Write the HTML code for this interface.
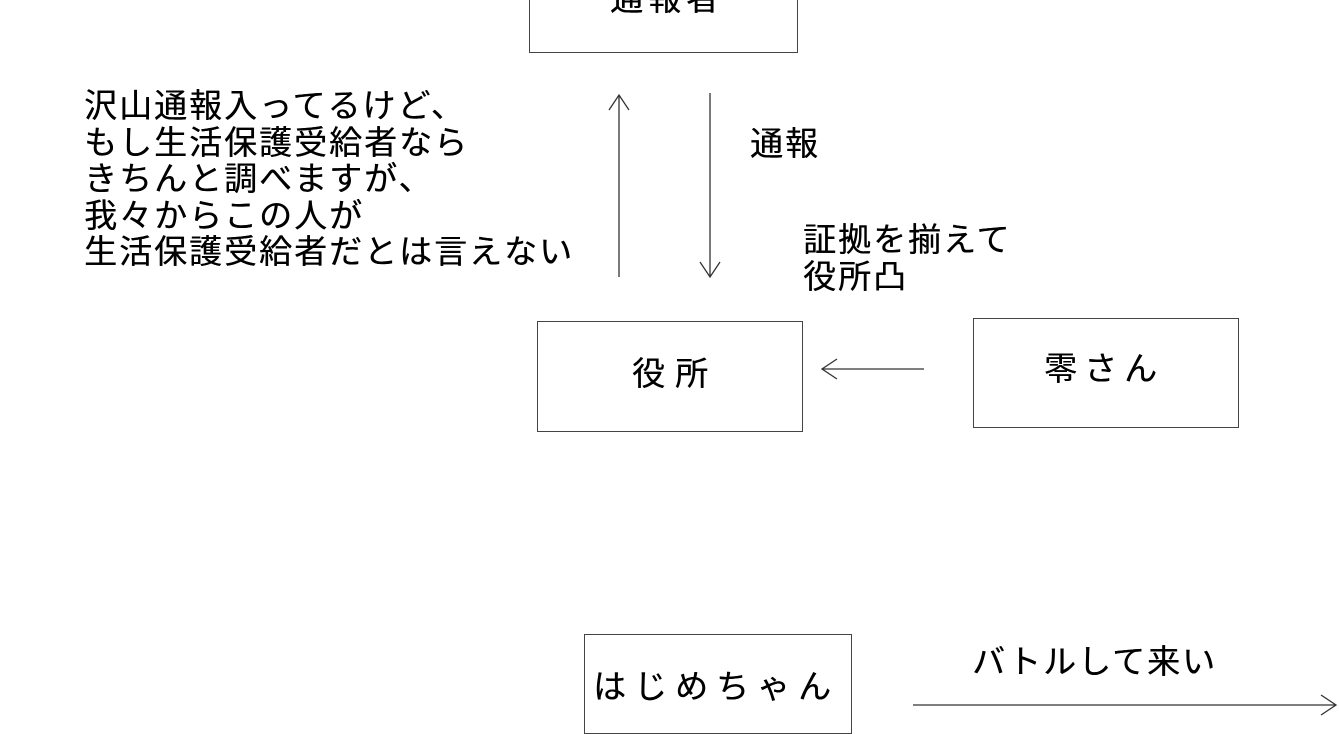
<!DOCTYPE html>
<html><head><meta charset="utf-8"><style>
body{margin:0;width:1339px;height:720px;overflow:hidden;background:#fff;position:relative;font-family:"Liberation Sans","Noto Sans CJK JP",sans-serif;color:#000}
.b{position:absolute;border:1.5px solid #444;box-sizing:border-box}
.t{position:absolute;font-size:33px;line-height:36.5px;letter-spacing:2px;white-space:nowrap;text-shadow:0.4px 0 0 #000}
svg{position:absolute;left:0;top:0}
</style></head><body>
<div class="b" style="left:529px;top:-60px;width:269px;height:113px"></div>
<div class="t" style="left:610px;top:-19px;letter-spacing:5px">通報者</div>
<div class="t" style="left:84px;top:88px">沢山通報入ってるけど、<br>もし生活保護受給者なら<br>きちんと調べますが、<br>我々からこの人が<br>生活保護受給者だとは言えない</div>
<div class="t" style="left:750px;top:126px">通報</div>
<div class="t" style="left:803px;top:222px">証拠を揃えて<br>役所凸</div>
<div class="b" style="left:537px;top:321px;width:266px;height:111px"></div>
<div class="t" style="left:632px;top:356px;letter-spacing:10px">役所</div>
<div class="b" style="left:973px;top:318px;width:266px;height:110px"></div>
<div class="t" style="left:1044px;top:351px;letter-spacing:7px">零さん</div>
<div class="b" style="left:584px;top:634px;width:268px;height:100px"></div>
<div class="t" style="left:593px;top:669px;letter-spacing:8px">はじめちゃん</div>
<div class="t" style="left:972px;top:644px">バトルして来い</div>
<svg width="1339" height="720" stroke="#333" stroke-width="1.3" fill="none">
<path d="M619 95V277M609 110L619 95L629 110"/>
<path d="M710 93V277M700 262L710 277L720 262"/>
<path d="M924 369H822M837 359L822 369L837 379"/>
<path d="M913 705H1336M1321 695L1336 705L1321 715"/>
</svg>
</body></html>
